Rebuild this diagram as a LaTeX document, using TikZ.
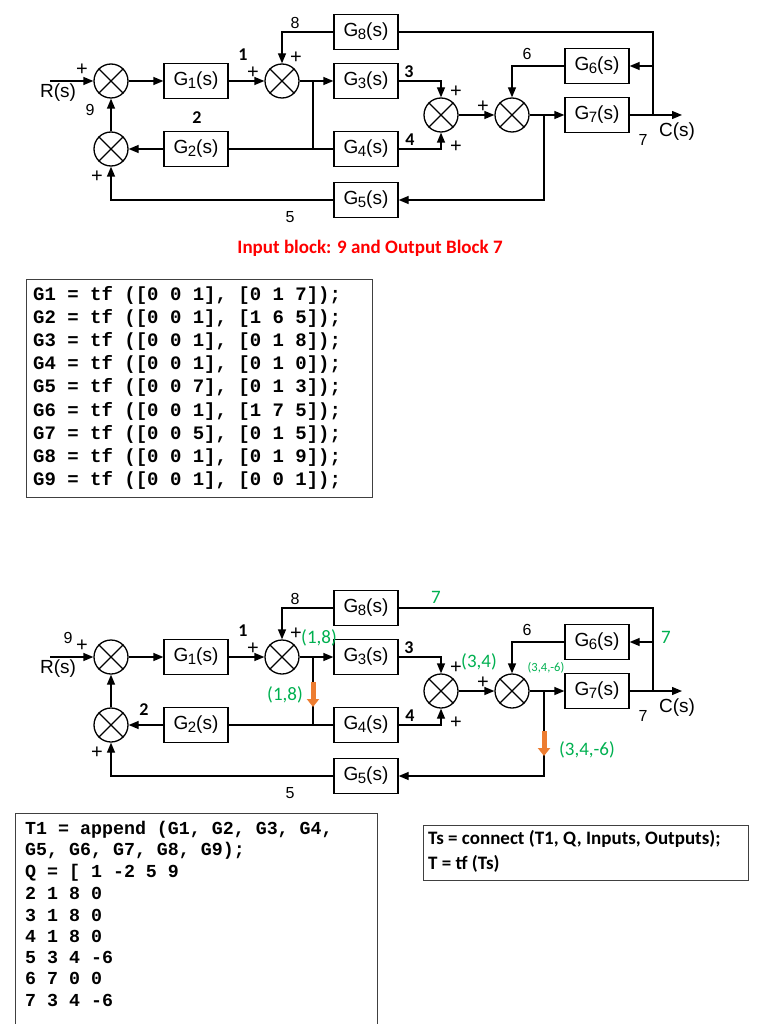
\documentclass[tikz,border=0pt]{standalone}
\usepackage{fontspec}
\setmainfont{Liberation Sans}
\newfontfamily\calib{Carlito}
\newfontfamily\mono{Liberation Mono}
\usetikzlibrary{arrows.meta}
\definecolor{grn}{HTML}{00B050}
\definecolor{org}{HTML}{ED7D31}
\definecolor{redtxt}{HTML}{FF0000}
\definecolor{frm}{HTML}{404040}
\newcommand\Gs[1]{G\kern-0.5pt\raisebox{-3pt}{\fontsize{15}{15}\selectfont#1}(s)}
\tikzset{
  blk/.style={draw, line width=1.3pt, minimum width=64pt, minimum height=35pt, inner sep=0pt, font=\fontsize{19}{19}\selectfont},
  sumj/.style={draw, circle, line width=1.3pt, minimum size=34pt, inner sep=0pt},
  wire/.style={line width=1.3pt},
  arr/.style={wire, -{Triangle[length=10pt,width=8pt]}},
  lbl/.style={inner sep=0pt, font=\fontsize{16}{16}\selectfont},
  bnum/.style={inner sep=0pt, font=\calib\bfseries\fontsize{18}{18}\selectfont},
  plus/.style={inner sep=0pt, font=\fontsize{20}{20}\selectfont},
  sig/.style={inner sep=0pt, font=\fontsize{19}{19}\selectfont},
  glbl/.style={inner sep=0pt, text=grn, font=\calib\fontsize{19}{19}\selectfont},
  gsmall/.style={inner sep=0pt, text=grn, font=\calib\fontsize{12.5}{12.5}\selectfont},
  orng/.style={org, line width=5pt, -{Triangle[length=8pt,width=12pt]}},
  codeA/.style={anchor=west, inner sep=0pt, font=\mono\bfseries\fontsize{19}{19}\selectfont},
  codeB/.style={anchor=west, inner sep=0pt, font=\mono\bfseries\fontsize{18.3}{18.3}\selectfont},
  frame/.style={draw=frm, line width=1pt, inner sep=0pt, anchor=north west},
  calb/.style={anchor=west, inner sep=0pt, font=\calib\bfseries\fontsize{19}{19}\selectfont},
}
\newcommand\blockdiagram[4]{%
  \node[sumj] (s1) at (111,81) {};
  \node[sumj] (s3) at (111,149) {};
  \node[sumj] (s2) at (282,81) {};
  \node[sumj] (s4) at (441,115) {};
  \node[sumj] (s5) at (512,115) {};
  \foreach \n in {s1,s2,s3,s4,s5}{\draw[wire] (\n.45) -- (\n.225) (\n.135) -- (\n.315);}
  \node[blk] (g1) at (196,81) {\Gs{1}};
  \node[blk] (g2) at (196,149) {\Gs{2}};
  \node[blk] (g8) at (366,32) {\Gs{8}};
  \node[blk] (g3) at (366,81) {\Gs{3}};
  \node[blk] (g4) at (366,149) {\Gs{4}};
  \node[blk] (g5) at (366,200) {\Gs{5}};
  \node[blk] (g6) at (597,66) {\Gs{6}};
  \node[blk] (g7) at (597,115) {\Gs{7}};
  \coordinate (in) at (50,81);
  \coordinate (out) at (682,115);
  \coordinate (ja) at (313,81);
  \coordinate (jb) at (313,149);
  \coordinate (jc) at (544,115);
  \coordinate (jd) at (653,115);
  \coordinate (je) at (653,66);
  \coordinate (jf) at (653,32);
  \draw[arr] (in) -- (s1);
  \draw[arr] (s1) -- (g1);
  \draw[arr] (g1) -- (s2);
  \draw[arr] (s2) -- (g3);
  \draw[arr] (g8.west) -| (s2.north);
  \draw[wire] (ja) -- (jb);
  \draw[wire] (g4.west) -- (g2.east);
  \draw[arr] (g2) -- (s3);
  \draw[arr] (s3) -- (s1);
  \draw[arr] (g5.west) -| (s3.south);
  \draw[arr] (g3.east) -| (s4.north);
  \draw[arr] (g4.east) -| (s4.south);
  \draw[arr] (s4) -- (s5);
  \draw[arr] (s5) -- (g7);
  \draw[arr] (jc) |- (g5.east);
  \draw[arr] (g7) -- (out);
  \draw[wire] (g8.east) -- (jf) -- (jd);
  \draw[arr] (je) -- (g6.east);
  \draw[arr] (g6.west) -| (s5.north);
  \node[sig] (rs) at (58,93) {R(s)};
  \node[sig] (cs) at (677,132) {C(s)};
  \node[plus] (p1) at (82,70) {+};
  \node[plus] (p2) at (253,73) {+};
  \node[plus] (p3) at (296,58) {+};
  \node[plus] (p4) at (97,177) {+};
  \node[plus] (p5) at (456,92) {+};
  \node[plus] (p6) at (456,147) {+};
  \node[plus] (p7) at (483,107) {+};
  \node[lbl] (n9) at (#1,#2) {9};
  \node[bnum] (n1) at (243,55) {1};
  \node[bnum] (n2) at (#3,#4) {2};
  \node[bnum] (n3) at (409,72) {3};
  \node[bnum] (n4) at (410,140) {4};
  \node[lbl] (n8) at (295,23) {8};
  \node[lbl] (n5) at (290,217) {5};
  \node[lbl] (n6) at (527,54) {6};
  \node[lbl] (n7) at (643,140) {7};
}
\begin{document}
\begin{tikzpicture}[x=1pt,y=-1pt]
\useasboundingbox (0,0) rectangle (768,1024);
\begin{scope}[name prefix=t-]
  \blockdiagram{90}{110}{197}{118}
\end{scope}
\begin{scope}[name prefix=b-, shift={(0,576)}]
  \blockdiagram{68}{62}{144}{134}
\end{scope}
\node[inner sep=0pt, text=redtxt, font=\calib\bfseries\fontsize{19}{19}\selectfont] (title) at (370,248) {Input block: 9 and Output Block 7};
% code box 1
\node[frame, minimum width=346pt, minimum height=218pt] (box1) at (26,279) {};
\foreach \t [count=\i] in {%
  {G1 = tf ([0 0 1], [0 1 7]);},
  {G2 = tf ([0 0 1], [1 6 5]);},
  {G3 = tf ([0 0 1], [0 1 8]);},
  {G4 = tf ([0 0 1], [0 1 0]);},
  {G5 = tf ([0 0 7], [0 1 3]);},
  {G6 = tf ([0 0 1], [1 7 5]);},
  {G7 = tf ([0 0 5], [0 1 5]);},
  {G8 = tf ([0 0 1], [0 1 9]);},
  {G9 = tf ([0 0 1], [0 0 1]);}}
  {\node[codeA] (ca\i) at (33,{295+(\i-1)*23.2}) {\t};}
% green annotations
\node[glbl] (ga) at (319,638) {(1,8)};
\node[glbl] (gb) at (285,695) {(1,8)};
\node[glbl] (gc) at (436,597) {7};
\node[glbl] (gd) at (666,637) {7};
\node[glbl] (ge) at (479,662) {(3,4)};
\node[gsmall] (gf) at (546,668) {(3,4,-6)};
\node[glbl] (gg) at (587,750) {(3,4,-6)};
\coordinate (oa1) at (313,682);
\coordinate (oa2) at (313,707);
\coordinate (ob1) at (544,731);
\coordinate (ob2) at (544,756);
\draw[orng] (oa1) -- (oa2);
\draw[orng] (ob1) -- (ob2);
% code box 2
\node[frame, minimum width=362pt, minimum height=230pt] (box2) at (15,813) {};
\foreach \t [count=\i] in {%
  {T1 = append (G1, G2, G3, G4,},
  {G5, G6, G7, G8, G9);},
  {Q = [ 1 -2 5 9},
  {2 1 8 0},
  {3 1 8 0},
  {4 1 8 0},
  {5 3 4 -6},
  {6 7 0 0},
  {7 3 4 -6}}
  {\node[codeB] (cb\i) at (25,{830+(\i-1)*21.25}) {\t};}
% box 3
\node[frame, minimum width=325pt, minimum height=55pt] (box3) at (423,825) {};
\node[calb] (ts1) at (428,839) {Ts = connect (T1, Q, Inputs, Outputs);};
\node[calb] (ts2) at (428,864) {T = tf (Ts)};
\end{tikzpicture}
\end{document}
